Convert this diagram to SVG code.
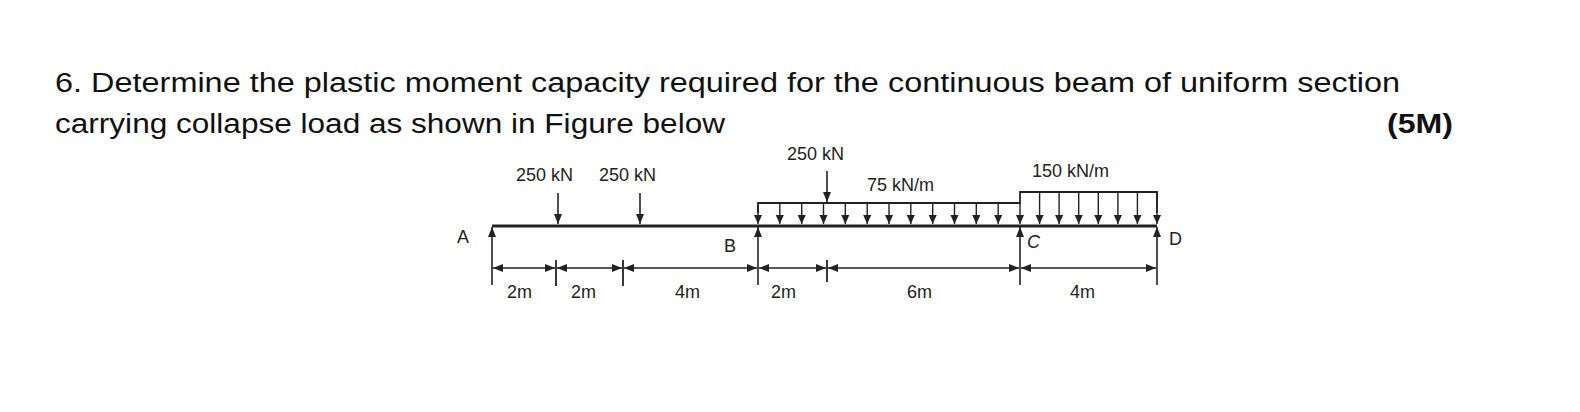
<svg xmlns="http://www.w3.org/2000/svg" width="1580" height="412" viewBox="0 0 1580 412">
<defs>
<marker id="ah" viewBox="0 0 10 10" refX="10" refY="5" markerWidth="11" markerHeight="10" markerUnits="userSpaceOnUse" orient="auto-start-reverse"><path d="M0,1 L10,5 L0,9 Z" fill="#222"/></marker>
<marker id="sh" viewBox="0 0 10 10" refX="10" refY="5" markerWidth="10" markerHeight="9" markerUnits="userSpaceOnUse" orient="auto"><path d="M0,0.5 L10,5 L0,9.5 Z" fill="#222"/></marker>
</defs>
<style>
.t{font-family:"Liberation Sans",Arial,sans-serif;font-size:27px;fill:#111}
.l{font-family:"Liberation Sans",Arial,sans-serif;font-size:18px;fill:#222}
.ln{stroke:#222;stroke-width:1.8;fill:none}
.ar{stroke:#222;stroke-width:1.6;fill:none;marker-end:url(#ah)}
.sa{stroke:#222;stroke-width:1.4;fill:none;marker-end:url(#sh)}
.dm{stroke:#222;stroke-width:1.4;fill:none;marker-start:url(#ah);marker-end:url(#ah)}
</style>
<rect width="1580" height="412" fill="#fff"/>
<text class="t" x="55" y="92" textLength="1345" lengthAdjust="spacingAndGlyphs">6. Determine the plastic moment capacity required for the continuous beam of uniform section</text>
<text class="t" x="55" y="133" textLength="670" lengthAdjust="spacingAndGlyphs">carrying collapse load as shown in Figure below</text>
<text class="t" x="1387" y="133" font-weight="bold" textLength="66" lengthAdjust="spacingAndGlyphs">(5M)</text>
<g id="beam"><line x1="492" y1="226" x2="1157" y2="226" stroke="#222" stroke-width="3"/></g>
<g id="supports">
<line class="ar" x1="492" y1="285" x2="492" y2="227"/>
<line class="ar" x1="758" y1="285" x2="758" y2="227"/>
<line class="ar" x1="1020" y1="285" x2="1020" y2="227"/>
<line class="ar" x1="1157" y1="285" x2="1157" y2="227"/>
<text class="l" x="457" y="243">A</text>
<text class="l" x="724" y="252">B</text>
<text class="l" x="1027" y="248" font-style="italic">C</text>
<text class="l" x="1169" y="245">D</text>
</g>
<g id="pointloads">
<line class="ar" x1="558" y1="193" x2="558" y2="224"/>
<line class="ar" x1="640" y1="193" x2="640" y2="224"/>
<line class="ar" x1="827" y1="171" x2="827" y2="202"/>
<text class="l" x="516" y="181">250 kN</text>
<text class="l" x="599" y="181">250 kN</text>
<text class="l" x="787" y="160">250 kN</text>
</g>
<g id="udl">
<polyline class="ln" points="758,213 758,203 1020,203 1020,192 1157,192 1157,213"/>
<g id="udl75">
<line class="sa" x1="758" y1="203" x2="758" y2="224"/><line class="sa" x1="779.8" y1="203" x2="779.8" y2="224"/><line class="sa" x1="801.7" y1="203" x2="801.7" y2="224"/><line class="sa" x1="823.5" y1="203" x2="823.5" y2="224"/><line class="sa" x1="845.3" y1="203" x2="845.3" y2="224"/><line class="sa" x1="867.2" y1="203" x2="867.2" y2="224"/><line class="sa" x1="889" y1="203" x2="889" y2="224"/><line class="sa" x1="910.8" y1="203" x2="910.8" y2="224"/><line class="sa" x1="932.7" y1="203" x2="932.7" y2="224"/><line class="sa" x1="954.5" y1="203" x2="954.5" y2="224"/><line class="sa" x1="976.3" y1="203" x2="976.3" y2="224"/><line class="sa" x1="998.2" y1="203" x2="998.2" y2="224"/><line class="sa" x1="1020" y1="203" x2="1020" y2="224"/>
</g>
<g id="udl150">
<line class="sa" x1="1039.6" y1="192" x2="1039.6" y2="224"/><line class="sa" x1="1059.1" y1="192" x2="1059.1" y2="224"/><line class="sa" x1="1078.7" y1="192" x2="1078.7" y2="224"/><line class="sa" x1="1098.3" y1="192" x2="1098.3" y2="224"/><line class="sa" x1="1117.9" y1="192" x2="1117.9" y2="224"/><line class="sa" x1="1137.4" y1="192" x2="1137.4" y2="224"/><line class="sa" x1="1157" y1="192" x2="1157" y2="224"/>
</g>
<text class="l" x="867" y="191">75 kN/m</text>
<text class="l" x="1032" y="177">150 kN/m</text>
</g>
<g id="dimensions">
<line class="ln" x1="556" y1="260" x2="556" y2="286"/>
<line class="ln" x1="623" y1="260" x2="623" y2="286"/>
<line class="ln" x1="827" y1="260" x2="827" y2="282"/>
<line class="dm" x1="493" y1="268" x2="555" y2="268"/>
<line class="dm" x1="557" y1="268" x2="622" y2="268"/>
<line class="dm" x1="624" y1="268" x2="757" y2="268"/>
<line class="dm" x1="759" y1="268" x2="826" y2="268"/>
<line class="dm" x1="828" y1="268" x2="1019" y2="268"/>
<line class="dm" x1="1021" y1="268" x2="1156" y2="268"/>
<text class="l" x="507" y="298">2m</text>
<text class="l" x="571" y="298">2m</text>
<text class="l" x="675" y="298">4m</text>
<text class="l" x="771" y="298">2m</text>
<text class="l" x="907" y="298">6m</text>
<text class="l" x="1070" y="298">4m</text>
</g>
</svg>
